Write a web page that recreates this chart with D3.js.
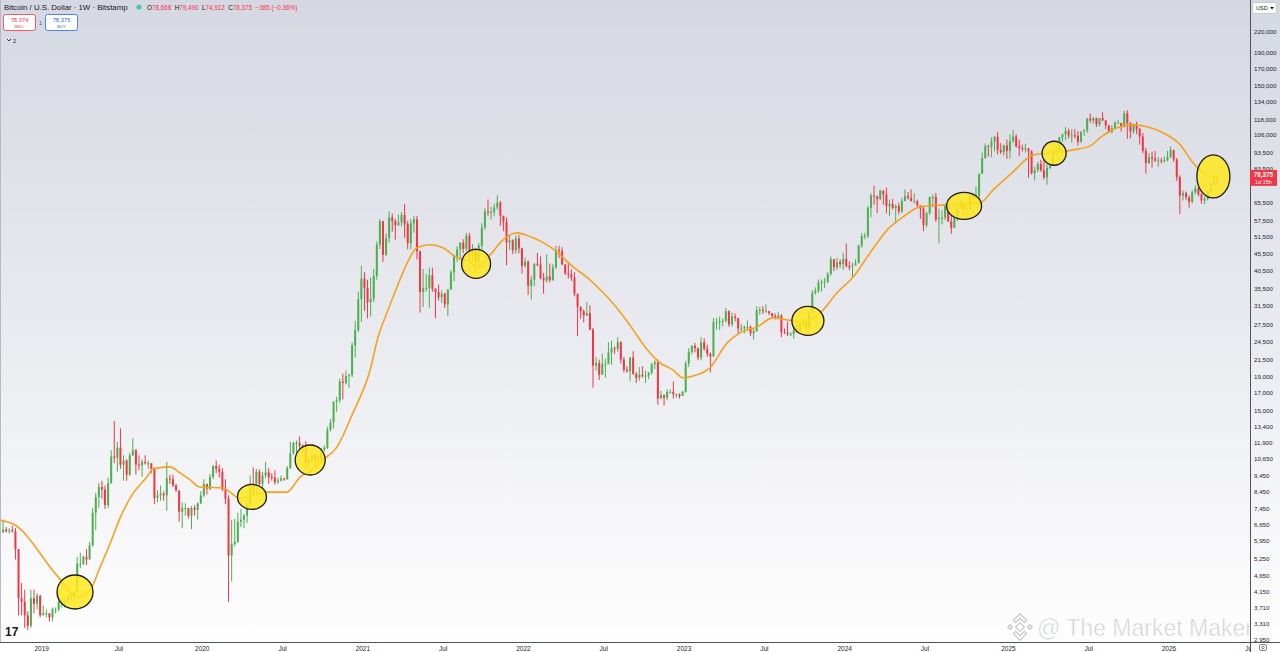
<!DOCTYPE html>
<html>
<head>
<meta charset="utf-8">
<script src="https://cdn.jsdelivr.net/npm/d3@7"></script>
<style>
  body { margin: 0; background: #fff; }
  svg { display: block; font-family: "Liberation Sans", Arial, sans-serif; }
</style>
</head>
<body>
<div id="chart"></div>
<script>
// weekly BTC/USD candles (Bitstamp), values in thousands of USD, one row per year
const firstWeek = '2018-10-08';
const firstOpenK = 6.63;
const closeK = [
  6.30, 6.43, 6.35, 6.40, 6.35, 5.60, 3.95, 3.85, 3.50, 3.25, 3.95, 3.80, 4.02,
  3.50, 3.55, 3.55, 3.45, 3.65, 3.65, 3.85, 3.85, 3.90, 4.00, 4.00, 4.15, 5.05, 5.05, 5.30, 5.20, 5.75, 7.25, 8.10, 8.70, 8.55, 7.65, 8.95, 10.80, 10.70, 11.50, 10.20, 10.50, 9.50, 10.90, 11.30, 10.20, 10.15, 10.40, 10.30, 10.30, 9.90, 8.05, 8.20, 8.30, 8.20, 9.25, 9.20, 8.80, 8.50, 7.30, 7.50, 7.50, 7.10, 7.50, 7.40, 7.75,
  8.20, 8.90, 8.60, 9.35, 10.10, 9.90, 9.70, 8.55, 8.00, 5.35, 5.80, 5.90, 6.80, 6.90, 7.10, 7.70, 8.90, 8.70, 9.70, 8.90, 9.45, 9.65, 9.35, 9.30, 9.00, 9.10, 9.25, 9.20, 9.95, 11.05, 11.90, 11.90, 11.65, 11.70, 10.30, 10.65, 10.90, 10.70, 10.60, 11.35, 11.50, 13.05, 13.75, 15.95, 16.10, 18.40, 18.20, 19.15, 19.25, 23.80, 26.50, 33.00,
  38.2, 35.8, 32.3, 33.1, 38.9, 48.6, 57.4, 45.2, 51.0, 59.0, 57.4, 55.8, 57.0, 60.0, 56.2, 49.1, 56.6, 58.2, 46.4, 34.7, 35.7, 35.8, 39.1, 35.5, 34.7, 33.5, 34.3, 31.8, 35.4, 39.9, 44.6, 47.0, 49.3, 47.2, 51.8, 45.0, 47.3, 43.2, 48.2, 54.9, 61.5, 61.0, 61.3, 63.3, 65.5, 59.7, 57.3, 49.4, 50.1, 46.7, 50.8, 47.3,
  41.8, 43.1, 36.3, 37.9, 42.4, 42.2, 38.3, 37.7, 38.8, 37.8, 41.3, 46.8, 46.4, 42.2, 39.7, 39.4, 38.5, 34.3, 31.3, 30.3, 29.4, 29.9, 26.6, 20.6, 21.0, 19.3, 20.8, 20.8, 22.6, 23.3, 23.2, 24.3, 21.5, 20.0, 19.8, 21.8, 19.4, 18.9, 19.3, 19.1, 19.2, 19.6, 20.8, 21.1, 16.3, 16.7, 16.4, 17.1, 17.1, 16.8, 16.8, 16.6,
  17.1, 20.9, 22.7, 23.7, 23.3, 21.8, 24.3, 23.2, 22.4, 22.0, 28.0, 28.0, 28.2, 28.3, 30.3, 27.6, 29.2, 28.9, 26.8, 26.8, 27.1, 27.1, 25.9, 26.3, 30.5, 30.6, 30.3, 30.3, 29.9, 29.3, 29.0, 29.4, 26.1, 26.0, 25.8, 25.8, 26.5, 26.2, 27.9, 27.9, 26.8, 30.0, 34.5, 35.0, 37.1, 37.4, 37.4, 39.5, 43.8, 41.4, 43.0, 42.3,
  43.9, 41.7, 41.6, 42.0, 42.6, 48.3, 51.6, 51.7, 63.1, 68.9, 68.4, 67.2, 71.3, 69.4, 63.9, 64.9, 63.1, 64.0, 61.5, 66.3, 68.6, 67.8, 66.2, 66.2, 64.3, 62.8, 55.8, 60.8, 68.2, 68.2, 58.1, 58.7, 58.9, 64.2, 57.3, 54.8, 59.1, 63.6, 65.6, 62.8, 62.9, 69.0, 68.0, 68.8, 80.4, 89.9, 98.0, 97.4, 101.2, 104.5, 95.2, 93.7, 98.3,
  94.5, 101.3, 104.8, 97.7, 96.5, 96.1, 96.3, 94.3, 80.7, 82.6, 86.1, 82.4, 78.4, 83.8, 85.2, 93.7, 94.3, 104.1, 106.5, 109.0, 105.6, 105.6, 105.3, 100.9, 108.4, 109.2, 119.1, 117.3, 119.4, 114.2, 119.3, 117.4, 113.5, 108.2, 111.1, 115.3, 115.3, 112.2, 123.5, 115.2, 108.6, 114.5, 110.6, 104.7, 94.6, 86.8, 90.4, 89.5, 88.2, 88.3, 87.8, 88.5,
  90.5, 95.0, 89.0, 78.5, 68.8, 70.2, 68.0, 65.8, 70.5, 72.5, 69.5, 66.5, 67.2, 71.0, 74.2, 78.668, 78.375
];
const highK = [
  6.65, 6.90, 6.55, 6.50, 6.60, 6.50, 5.60, 4.40, 4.20, 3.60, 4.20, 4.20, 4.10,
  4.05, 3.75, 3.65, 3.55, 3.70, 3.70, 4.20, 3.95, 3.95, 4.05, 4.10, 4.15, 5.30, 5.45, 5.35, 5.60, 5.90, 7.50, 8.35, 8.95, 9.10, 8.80, 9.30, 11.30, 13.90, 12.00, 13.20, 10.90, 10.60, 11.10, 12.30, 11.40, 10.90, 10.60, 10.90, 10.50, 10.30, 10.00, 8.50, 8.80, 8.45, 10.40, 9.50, 9.50, 8.90, 8.20, 7.80, 7.75, 7.40, 7.60, 7.65, 7.80,
  8.45, 9.20, 8.90, 9.55, 10.15, 10.50, 10.20, 9.95, 9.20, 8.20, 6.90, 6.95, 7.25, 7.45, 7.20, 7.75, 9.45, 10.00, 9.90, 9.85, 9.70, 10.40, 9.95, 9.60, 9.80, 9.30, 9.45, 9.30, 10.10, 12.00, 12.00, 12.10, 12.45, 11.80, 12.05, 10.75, 11.10, 10.95, 10.90, 11.50, 11.70, 13.35, 14.10, 15.95, 16.50, 18.80, 19.45, 19.90, 19.45, 24.30, 28.30, 34.80,
  41.9, 40.0, 37.9, 38.5, 40.9, 49.7, 58.3, 57.5, 52.6, 61.7, 60.6, 58.4, 60.1, 61.2, 64.9, 57.5, 58.4, 59.5, 59.6, 46.6, 40.9, 39.5, 41.3, 41.3, 35.7, 36.6, 35.1, 34.6, 35.4, 40.6, 45.3, 48.1, 49.5, 50.5, 52.9, 52.8, 48.8, 47.3, 49.2, 56.6, 62.9, 67.0, 63.6, 65.0, 69.0, 66.3, 59.5, 59.0, 51.9, 50.5, 51.9, 52.1,
  47.5, 44.4, 43.5, 38.9, 42.6, 45.8, 44.7, 39.8, 45.4, 42.5, 42.3, 48.2, 48.2, 47.7, 42.4, 42.9, 40.8, 40.0, 34.3, 31.3, 30.7, 32.3, 31.6, 26.9, 21.9, 21.5, 22.4, 21.6, 24.3, 24.6, 23.6, 25.2, 24.5, 21.9, 20.5, 21.9, 22.8, 19.7, 20.4, 20.5, 19.9, 19.7, 21.0, 21.4, 21.5, 17.2, 16.8, 17.4, 17.4, 18.4, 16.9, 16.9,
  17.2, 21.3, 23.3, 23.8, 24.2, 23.4, 25.2, 25.0, 23.9, 22.6, 28.9, 28.9, 29.2, 28.8, 31.0, 30.5, 30.0, 29.8, 28.8, 27.7, 27.4, 28.4, 27.4, 26.8, 31.4, 31.3, 31.4, 31.8, 30.4, 29.9, 29.8, 30.2, 29.7, 26.8, 28.1, 26.1, 27.0, 27.5, 28.0, 28.6, 28.0, 30.3, 35.2, 35.9, 38.0, 37.9, 38.4, 40.0, 44.7, 43.9, 44.3, 43.8,
  45.9, 49.0, 43.2, 42.8, 43.8, 48.6, 52.8, 52.9, 64.0, 70.0, 73.8, 68.9, 71.8, 71.5, 72.8, 66.9, 67.2, 64.7, 65.5, 67.7, 71.9, 70.6, 72.0, 70.0, 66.9, 63.8, 63.8, 61.4, 68.4, 69.4, 70.1, 62.7, 62.0, 65.0, 64.9, 59.8, 60.6, 64.1, 66.5, 66.0, 64.5, 69.5, 69.5, 73.6, 80.4, 93.5, 99.6, 98.7, 104.1, 105.2, 108.3, 99.9, 98.9,
  102.5, 106.4, 109.5, 106.5, 102.5, 98.8, 99.5, 96.5, 95.0, 84.4, 87.5, 88.8, 88.5, 86.1, 86.4, 95.7, 97.9, 104.4, 106.6, 112.0, 110.7, 110.4, 110.4, 108.9, 108.5, 110.5, 119.5, 123.2, 120.2, 119.8, 119.4, 124.5, 117.6, 113.6, 113.4, 116.8, 117.9, 115.4, 125.7, 126.2, 116.0, 114.8, 116.4, 111.2, 107.5, 96.6, 93.1, 94.0, 94.5, 90.5, 90.0, 91.0,
  94.5, 97.5, 95.5, 90.0, 79.5, 71.5, 70.8, 69.0, 71.5, 74.0, 73.0, 70.0, 68.5, 71.8, 75.0, 79.0, 79.49
];
const lowK = [
  6.10, 6.30, 6.30, 6.25, 6.30, 5.20, 3.50, 3.50, 3.20, 3.15, 3.20, 3.55, 3.65,
  3.45, 3.50, 3.45, 3.35, 3.35, 3.55, 3.60, 3.70, 3.70, 3.80, 3.90, 3.90, 4.10, 4.90, 5.00, 5.00, 5.20, 5.70, 6.40, 7.50, 8.00, 7.45, 7.50, 8.90, 10.30, 9.70, 9.90, 9.10, 9.10, 9.40, 10.85, 9.50, 9.80, 9.35, 10.20, 9.90, 9.60, 7.70, 7.80, 7.90, 7.90, 7.35, 8.90, 8.70, 8.40, 6.80, 6.50, 7.10, 6.95, 6.45, 7.10, 6.90,
  7.70, 8.10, 8.25, 8.50, 9.20, 9.60, 9.30, 8.45, 7.70, 3.85, 4.45, 5.70, 5.85, 6.55, 6.50, 6.75, 7.65, 8.20, 8.20, 8.70, 8.60, 9.25, 8.90, 9.10, 8.85, 8.90, 9.05, 9.10, 9.15, 9.90, 10.95, 11.10, 11.30, 11.10, 9.85, 9.90, 10.25, 10.10, 10.40, 10.50, 11.20, 11.40, 12.90, 13.20, 14.85, 15.80, 16.20, 18.00, 17.60, 19.00, 21.80, 26.10,
  28.1, 30.4, 28.8, 29.2, 32.3, 37.9, 47.1, 43.0, 44.9, 49.3, 53.3, 50.3, 55.5, 55.4, 51.0, 47.0, 47.0, 52.9, 43.8, 30.0, 31.2, 34.8, 31.0, 34.8, 28.8, 32.7, 32.1, 31.0, 29.3, 35.2, 37.5, 43.0, 43.9, 45.8, 46.4, 42.8, 43.4, 39.6, 40.8, 47.1, 54.0, 59.6, 58.1, 59.4, 62.3, 55.6, 53.5, 42.0, 46.8, 45.5, 45.6, 45.7,
  39.6, 41.3, 34.0, 32.9, 36.2, 41.7, 38.0, 34.3, 37.2, 37.2, 37.6, 40.9, 44.2, 42.0, 39.2, 38.2, 37.6, 33.7, 25.4, 28.7, 28.0, 29.3, 26.5, 17.6, 19.9, 18.6, 19.3, 18.9, 21.0, 20.7, 22.4, 22.7, 20.9, 19.6, 19.6, 18.5, 19.3, 18.2, 18.5, 18.9, 18.2, 18.7, 19.3, 20.1, 15.6, 16.3, 15.5, 16.1, 16.9, 16.3, 16.4, 16.3,
  16.6, 17.0, 20.4, 22.3, 22.6, 21.4, 21.4, 22.9, 21.9, 19.6, 21.9, 26.6, 26.5, 27.2, 28.0, 27.1, 27.2, 28.2, 25.8, 26.3, 25.9, 26.5, 25.4, 24.8, 26.2, 29.5, 29.7, 30.0, 29.5, 28.9, 28.6, 28.8, 25.2, 25.8, 25.4, 25.4, 24.9, 26.0, 26.2, 27.2, 26.6, 26.7, 29.9, 34.1, 34.5, 34.8, 35.7, 37.0, 39.0, 40.3, 40.6, 41.3,
  40.7, 41.4, 40.6, 38.5, 41.9, 42.6, 47.6, 50.5, 50.9, 59.0, 64.5, 60.8, 66.6, 64.5, 60.7, 59.6, 62.4, 56.5, 60.2, 60.8, 66.2, 66.9, 66.0, 65.1, 63.4, 58.4, 53.5, 55.0, 60.1, 63.4, 57.1, 49.1, 56.1, 57.8, 57.2, 52.5, 54.6, 57.5, 62.6, 59.8, 58.9, 62.4, 65.1, 67.4, 66.9, 80.2, 89.4, 90.8, 90.5, 94.2, 92.2, 92.5, 91.5,
  89.3, 89.4, 100.1, 96.9, 91.2, 94.1, 93.4, 78.2, 80.0, 76.6, 81.2, 81.6, 77.1, 74.4, 83.1, 85.1, 92.8, 93.4, 100.8, 102.1, 103.1, 100.4, 103.4, 98.2, 100.0, 105.2, 107.5, 115.7, 114.7, 112.0, 112.6, 116.8, 110.5, 107.3, 107.3, 110.6, 114.7, 108.6, 111.6, 103.0, 103.5, 106.9, 106.5, 98.9, 93.0, 80.6, 86.1, 84.0, 87.5, 84.5, 86.5, 86.9,
  87.8, 90.0, 87.5, 76.5, 60.3, 66.5, 66.8, 63.2, 65.2, 69.5, 68.5, 65.0, 64.8, 66.5, 70.5, 73.8, 74.912
];

// orange moving average
const maDates = [
  '2018-10-08', '2018-11-07', '2019-02-17', '2019-04-01', '2019-04-30', '2019-05-23', '2019-06-15', '2019-07-08',
  '2019-08-06', '2019-09-06', '2019-09-20', '2019-10-28', '2019-11-20', '2019-12-13', '2020-01-04', '2020-02-25',
  '2020-04-04', '2020-06-04', '2020-07-19', '2020-08-18', '2020-09-16', '2020-10-09', '2020-11-10', '2020-12-16',
  '2021-01-24', '2021-02-11', '2021-03-03', '2021-03-26', '2021-04-18', '2021-05-10', '2021-06-09', '2021-07-08',
  '2021-08-09', '2021-09-07', '2021-09-23', '2021-10-23', '2021-11-21', '2021-12-23', '2022-01-28', '2022-03-08',
  '2022-04-29', '2022-06-06', '2022-07-15', '2022-08-13', '2022-09-12', '2022-10-14', '2022-11-12', '2022-12-11',
  '2023-01-03', '2023-02-04', '2023-03-05', '2023-04-13', '2023-05-12', '2023-06-20', '2023-07-26', '2023-08-27',
  '2023-10-02', '2023-11-10', '2023-12-18', '2024-01-24', '2024-03-02', '2024-04-10', '2024-05-16', '2024-06-23',
  '2024-08-24', '2024-11-06', '2024-12-06', '2025-01-20', '2025-03-07', '2025-04-21', '2025-06-05', '2025-07-14',
  '2025-08-05', '2025-09-13', '2025-10-19', '2025-11-20', '2025-12-26', '2026-02-03', '2026-03-04', '2026-03-27',
  '2026-04-27'
];
const maValues = [
  6880, 6690, 4590, 3985, 4190, 4930, 5845, 7030,
  8335, 9340, 9900, 10040, 9620, 9150, 8700, 8640,
  8040, 8390, 8390, 9340, 9830, 10550, 11570, 14730,
  19990, 25270, 29960, 36040, 42730, 47530, 48560, 47530,
  44270, 43030, 41240, 45220, 50300, 52860, 51020, 47870,
  41540, 37880, 33570, 30170, 26550, 23040, 21000, 19990,
  18890, 19290, 20270, 24210, 25990, 27120, 28900, 28500,
  28090, 29960, 34530, 38690, 45870, 53990, 59210, 63570,
  64480, 65400, 71720, 81500, 91950, 93270, 95270, 98010,
  103740, 111380, 113780, 112170, 107490, 98710, 86880, 80920,
  78200
];

// yellow highlight circles (centre date / price)
const circleDates = ['2019-03-27', '2020-05-01', '2020-09-10', '2021-09-21', '2023-10-13', '2024-10-01', '2025-04-23', '2026-04-19'];
const circlePrices = [4130, 8110, 10540, 42400, 28300, 64000, 93000, 78900];
const circleRadii = [[18, 17], [14.5, 12.5], [15, 15], [14.5, 14.5], [16, 14.5], [17.5, 13.5], [12, 12], [16.5, 21.5]];

// axis ticks
const priceTicks = [220000, 190000, 170000, 150000, 134000, 118000, 106000, 93500, 83500, 65500, 57500, 51500, 45500,
  40500, 35500, 31500, 27500, 24500, 21500, 19000, 17000, 15000, 13400, 11900, 10650, 9450, 8450, 7450, 6650, 5950,
  5250, 4650, 4150, 3710, 3310, 2950];
const timeTickDates = ['2019-01-07', '2019-07-01', '2020-01-06', '2020-07-06', '2021-01-04', '2021-07-05', '2022-01-03',
  '2022-07-04', '2023-01-02', '2023-07-03', '2024-01-01', '2024-07-01', '2025-01-06', '2025-07-07', '2026-01-05', '2026-07-06'];
const timeTickLabels = ['2019', 'Jul', '2020', 'Jul', '2021', 'Jul', '2022', 'Jul', '2023', 'Jul', '2024', 'Jul', '2025', 'Jul', '2026', 'Jul'];

const W = 1280, H = 652;
const plotW = 1250, plotH = 642;
const UP = '#4caf50', DOWN = '#f23645', MA = '#f5a11f';

const parseDay = d3.utcParse('%Y-%m-%d');
const start = parseDay(firstWeek);
const candles = closeK.map((c, i) => ({
  date: d3.utcDay.offset(start, 7 * i),
  o: (i === 0 ? firstOpenK : closeK[i - 1]) * 1000,
  h: highK[i] * 1000,
  l: lowK[i] * 1000,
  c: c * 1000
}));

const x = d3.scaleUtc()
  .domain([parseDay('2018-10-08'), parseDay('2026-07-11')])
  .range([0, plotW]);
const y = d3.scaleLog()
  .domain([2896, 276000])
  .range([plotH, 0]);

const svg = d3.select('#chart').append('svg')
  .attr('width', W)
  .attr('height', H);

// background gradient
const defs = svg.append('defs');
const grad = defs.append('linearGradient').attr('id', 'bg').attr('x1', 0).attr('y1', 0).attr('x2', 0).attr('y2', 1);
grad.append('stop').attr('offset', '0%').attr('stop-color', '#d5d8e2');
grad.append('stop').attr('offset', '50%').attr('stop-color', '#e9eaef');
grad.append('stop').attr('offset', '100%').attr('stop-color', '#fefefe');
defs.append('clipPath').attr('id', 'plot')
  .append('rect').attr('x', 0).attr('y', 0).attr('width', plotW).attr('height', plotH);
defs.append('clipPath').attr('id', 'timeband')
  .append('rect').attr('x', 0).attr('y', -2).attr('width', plotW).attr('height', H - plotH + 4);

svg.append('rect').attr('width', W).attr('height', plotH).attr('fill', 'url(#bg)');
svg.append('rect').attr('y', plotH).attr('width', W).attr('height', H - plotH).attr('fill', '#fff');

const plot = svg.append('g').attr('clip-path', 'url(#plot)');

// candles
const bodyW = 2;
const bars = plot.append('g').selectAll('g').data(candles).enter().append('g');
bars.append('line')
  .attr('x1', d => x(d.date))
  .attr('x2', d => x(d.date))
  .attr('y1', d => y(d.h))
  .attr('y2', d => y(d.l))
  .attr('stroke', d => d.c >= d.o ? UP : DOWN)
  .attr('stroke-width', 1);
bars.append('rect')
  .attr('x', d => x(d.date) - bodyW / 2)
  .attr('y', d => y(Math.max(d.o, d.c)))
  .attr('width', bodyW)
  .attr('height', d => Math.max(1, Math.abs(y(d.o) - y(d.c))))
  .attr('fill', d => d.c >= d.o ? UP : DOWN);

// moving average line
const maData = maDates.map((d, i) => ({ date: parseDay(d), v: maValues[i] }));
plot.append('path')
  .datum(maData)
  .attr('fill', 'none')
  .attr('stroke', MA)
  .attr('stroke-width', 1.6)
  .attr('d', d3.line().x(d => x(d.date)).y(d => y(d.v)).curve(d3.curveMonotoneX));

// yellow highlight circles
plot.append('g').selectAll('ellipse').data(circleDates).enter().append('ellipse')
  .attr('cx', d => x(parseDay(d)))
  .attr('cy', (d, i) => y(circlePrices[i]))
  .attr('rx', (d, i) => circleRadii[i][0])
  .attr('ry', (d, i) => circleRadii[i][1])
  .attr('fill', '#ffe81c')
  .attr('fill-opacity', 0.85)
  .attr('stroke', '#1a1a1a')
  .attr('stroke-width', 1.3);

// watermark
const wm = svg.append('g').attr('opacity', 0.9);
const logo = wm.append('g').attr('transform', 'translate(1020,627) scale(1.1)')
  .attr('fill', 'rgba(255,255,255,0.5)').attr('stroke', '#c4c4c4').attr('stroke-width', 1.2);
logo.append('path').attr('d', 'M0,-4 L4,0 L0,4 L-4,0 Z');
logo.append('path').attr('d', 'M-9,-2 L-7,0 L-9,2 L-11,0 Z');
logo.append('path').attr('d', 'M9,-2 L11,0 L9,2 L7,0 Z');
logo.append('path').attr('d', 'M-6,-6 L0,-12 L6,-6 L4,-4 L0,-8 L-4,-4 Z');
logo.append('path').attr('d', 'M-6,6 L0,12 L6,6 L4,4 L0,8 L-4,4 Z');
wm.append('text')
  .attr('x', 1037).attr('y', 636)
  .attr('font-size', 23)
  .attr('fill', '#c9c9c9')
  .attr('stroke', '#ffffff').attr('stroke-width', 0.6)
  .text('@ The Market Maker');

// TradingView logo mark
svg.append('text')
  .attr('x', 5).attr('y', 636)
  .attr('font-size', 12).attr('font-weight', 'bold')
  .attr('fill', '#131722')
  .text('17');

// frame lines
svg.append('line').attr('x1', 0.5).attr('x2', 0.5).attr('y1', 0).attr('y2', plotH).attr('stroke', '#b8bac2');
svg.append('line').attr('x1', plotW + 0.5).attr('x2', plotW + 0.5).attr('y1', 0).attr('y2', H).attr('stroke', '#50535e');
svg.append('line').attr('x1', 0).attr('x2', W).attr('y1', plotH + 0.5).attr('y2', plotH + 0.5).attr('stroke', '#50535e');

// price axis
svg.append('g')
  .attr('transform', `translate(${plotW},0)`)
  .call(d3.axisRight(y).tickValues(priceTicks).tickFormat(d3.format(',')).tickSize(0).tickPadding(4))
  .call(g => g.select('.domain').remove())
  .attr('font-family', null)
  .attr('font-size', 6.2)
  .selectAll('text').attr('fill', '#1e222d');

// time axis, clipped at the price scale like the original
svg.append('g')
  .attr('transform', `translate(0,${plotH})`)
  .attr('clip-path', 'url(#timeband)')
  .append('g')
  .attr('transform', 'translate(1,0)')
  .call(d3.axisBottom(x).tickValues(timeTickDates.map(parseDay)).tickFormat((d, i) => timeTickLabels[i]).tickSize(0).tickPadding(4))
  .call(g => g.select('.domain').remove())
  .attr('font-family', null)
  .attr('font-size', 6.5)
  .selectAll('text').attr('fill', '#1e222d');

// last price label
const last = candles[candles.length - 1];
svg.append('rect')
  .attr('x', plotW).attr('y', y(last.c) - 7.5)
  .attr('width', 27).attr('height', 16)
  .attr('fill', DOWN);
svg.append('text')
  .attr('x', plotW + 13.5).attr('y', y(last.c) - 0.5)
  .attr('text-anchor', 'middle').attr('font-size', 6.3).attr('font-weight', 'bold').attr('fill', '#fff')
  .text(d3.format(',')(Math.round(last.c)));
svg.append('text')
  .attr('x', plotW + 13.5).attr('y', y(last.c) + 6.5)
  .attr('text-anchor', 'middle').attr('font-size', 5.5).attr('fill', '#fff')
  .text('1d 15h');

// currency box
svg.append('rect').attr('x', 1252.5).attr('y', 2.5).attr('width', 24).attr('height', 11).attr('rx', 2)
  .attr('fill', '#fff').attr('stroke', '#c5c8d0');
svg.append('text').attr('x', 1256).attr('y', 10).attr('font-size', 5.5).attr('fill', '#131722').text('USD');
svg.append('path').attr('d', 'M1270,7 L1274,7 L1272,9.5 Z').attr('fill', '#131722');

// settings icon bottom right
svg.append('rect').attr('x', 1259.5).attr('y', 644.5).attr('width', 7).attr('height', 6).attr('rx', 1.5)
  .attr('fill', 'none').attr('stroke', '#50535e').attr('stroke-width', 0.7);
svg.append('circle').attr('cx', 1263).attr('cy', 647.5).attr('r', 1.3).attr('fill', 'none').attr('stroke', '#50535e').attr('stroke-width', 0.7);

// header
const head = svg.append('g').attr('font-size', 7.8);
head.append('text').attr('x', 4).attr('y', 9.5).attr('fill', '#131722')
  .text('Bitcoin / U.S. Dollar · 1W · Bitstamp');
head.append('circle').attr('cx', 139).attr('cy', 7).attr('r', 2.6).attr('fill', '#4fc8a8');
const ohlc = head.append('text').attr('x', 147).attr('y', 9.5).attr('font-size', 6.3);
[['O', '78,668'], ['H', '79,490'], ['L', '74,912'], ['C', '78,375']].forEach(([k, v], i) => {
  ohlc.append('tspan').attr('fill', '#131722').attr('dx', i ? 3.5 : 0).text(k);
  ohlc.append('tspan').attr('fill', DOWN).text(v);
});
ohlc.append('tspan').attr('fill', DOWN).attr('dx', 3.5).text('−385 (−0.36%)');

// sell / buy buttons
const btn = svg.append('g');
btn.append('rect').attr('x', 3.5).attr('y', 14.5).attr('width', 32).attr('height', 16).attr('rx', 2)
  .attr('fill', '#fff').attr('stroke', DOWN).attr('stroke-width', 0.8);
btn.append('text').attr('x', 19.5).attr('y', 21.5).attr('text-anchor', 'middle').attr('font-size', 5.8).attr('fill', DOWN).text('78,374');
btn.append('text').attr('x', 19.5).attr('y', 28).attr('text-anchor', 'middle').attr('font-size', 4.3).attr('fill', DOWN).text('SELL');
btn.append('text').attr('x', 40.5).attr('y', 25).attr('text-anchor', 'middle').attr('font-size', 5.5).attr('fill', '#50535e').text('1');
btn.append('rect').attr('x', 45.5).attr('y', 14.5).attr('width', 32).attr('height', 16).attr('rx', 2)
  .attr('fill', '#fff').attr('stroke', '#2962ff').attr('stroke-width', 0.8);
btn.append('text').attr('x', 61.5).attr('y', 21.5).attr('text-anchor', 'middle').attr('font-size', 5.8).attr('fill', '#2962ff').text('78,375');
btn.append('text').attr('x', 61.5).attr('y', 28).attr('text-anchor', 'middle').attr('font-size', 4.3).attr('fill', '#2962ff').text('BUY');
btn.append('path').attr('d', 'M7,39 L9,41 L11,39').attr('fill', 'none').attr('stroke', '#131722').attr('stroke-width', 0.8);
btn.append('text').attr('x', 13).attr('y', 42.5).attr('font-size', 5.5).attr('fill', '#131722').text('2');
</script>
</body>
</html>
